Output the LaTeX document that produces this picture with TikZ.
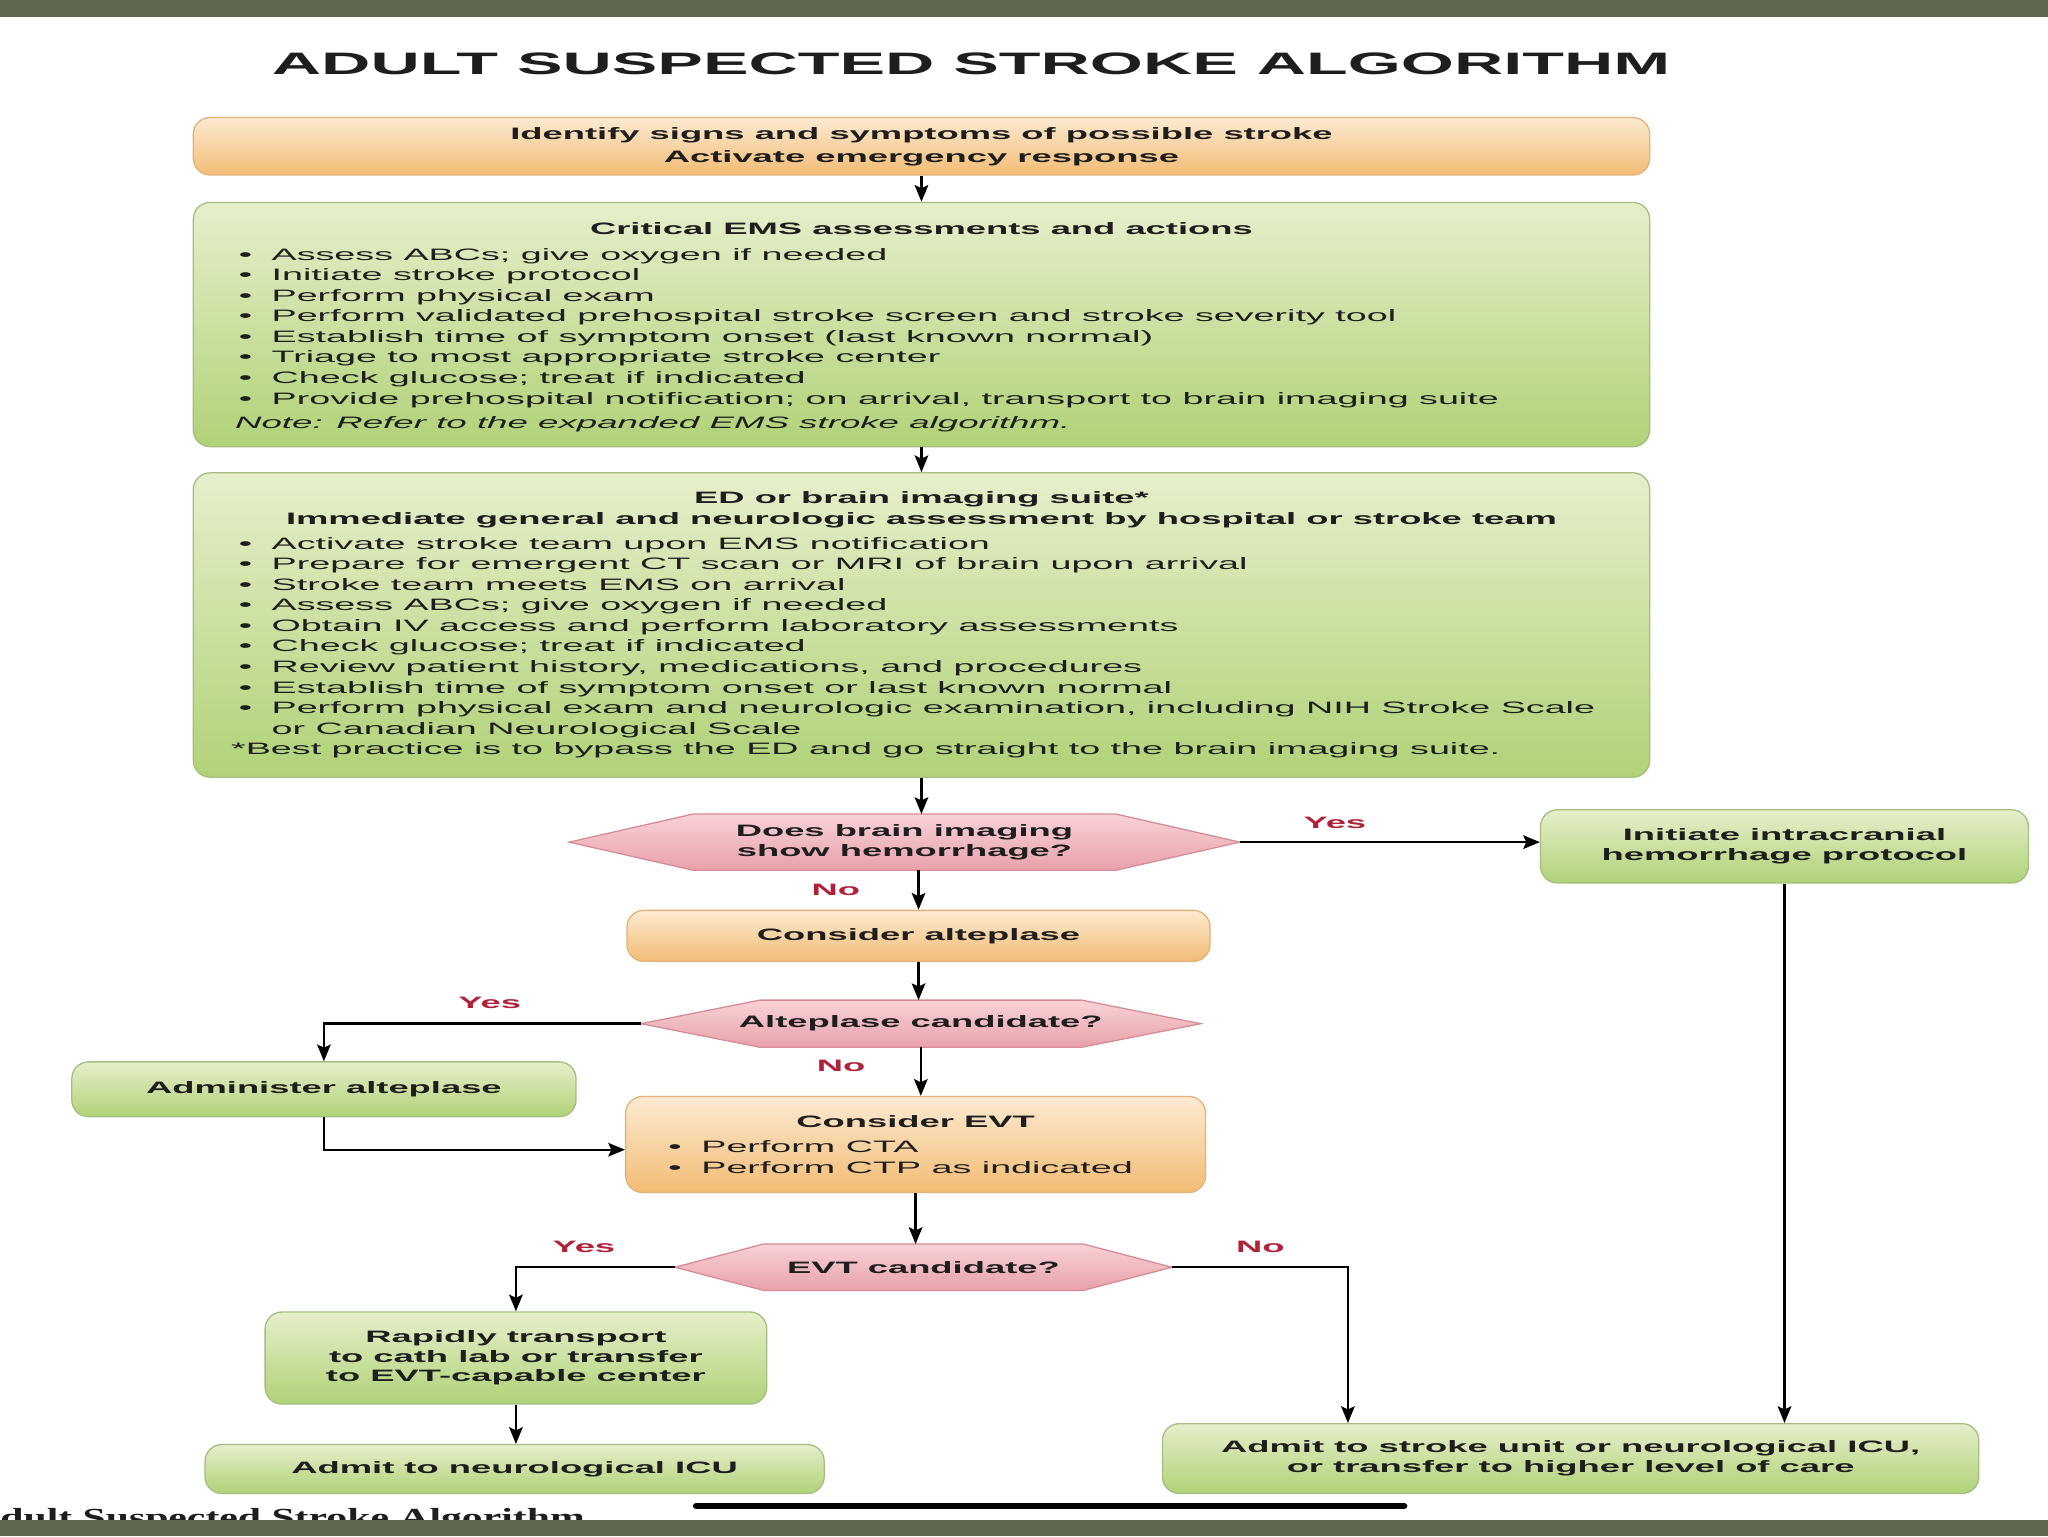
\documentclass[tikz,border=0pt]{standalone}
\usepackage{fontspec}
\setmainfont{Liberation Sans}[UprightFeatures={FakeStretch=2.28}, BoldFeatures={FakeStretch=2.2}, ItalicFeatures={FakeStretch=2.22}, BoldItalicFeatures={FakeStretch=2.2}]
\newfontfamily\capfont{Liberation Serif}[FakeStretch=1.6]
\usetikzlibrary{arrows.meta,backgrounds}
\definecolor{txt}{HTML}{1E1E1E}
\definecolor{oTop}{HTML}{FCEAD2}
\definecolor{oBot}{HTML}{F2BC74}
\definecolor{oLine}{HTML}{E2B27C}
\definecolor{gTop}{HTML}{E6EFCB}
\definecolor{gBot}{HTML}{B0D277}
\definecolor{gLine}{HTML}{A3BE80}
\definecolor{pTop}{HTML}{F8D2D6}
\definecolor{pBot}{HTML}{E8A1AB}
\definecolor{pLine}{HTML}{D68C97}
\definecolor{lblred}{HTML}{B0223A}
\definecolor{strip}{HTML}{5E6850}
\newcommand\bul[1]{\noindent\makebox[6.25mm][l]{\bfseries\textbullet}\mbox{#1}\par}
\newcommand\hexdraw[2]{\path[hexfill] (#1.west) -- ([xshift=#2]#1.north west) -- ([xshift=-#2]#1.north east) -- (#1.east) -- ([xshift=-#2]#1.south east) -- ([xshift=#2]#1.south west) -- cycle;}
\begin{document}
\begin{tikzpicture}[x=0.25mm,y=-0.25mm,
  every node/.style={inner sep=0pt, text=txt},
  base/.style={line width=0.7pt, rounded corners=3.2mm, align=center, font=\bfseries\fontsize{9}{10.7}\selectfont},
  obox/.style={base, draw=oLine, top color=oTop, bottom color=oBot},
  gbox/.style={base, draw=gLine, top color=gTop, bottom color=gBot},
  hexnode/.style={align=center, font=\bfseries\fontsize{9}{10.7}\selectfont},
  hexfill/.style={draw=pLine, line width=0.7pt, top color=pTop, bottom color=pBot},
  arr/.style={draw=black, line width=1.3pt, -{Stealth[length=3.2mm,width=2.6mm,inset=0.6mm]}},
  lbl/.style={text=lblred, font=\bfseries\fontsize{9}{10}\selectfont}
]
\useasboundingbox (0,0) rectangle (1568,1176);
\begin{scope}[on background layer]
\fill[white] (0,0) rectangle (1568,1176);
\end{scope}

% title
\node (title) at (743.5,49) {\fontsize{16.9}{18}\selectfont\bfseries ADULT SUSPECTED STROKE ALGORITHM};

% box 1
\node[obox, minimum width=278.75mm, minimum height=11mm, font=\bfseries\fontsize{9}{12.5}\selectfont] (b1) at (705.5,112)
  {Identify signs and symptoms of possible stroke\\Activate emergency response};

% box 2
\node[gbox, minimum width=278.75mm, minimum height=46.75mm] (b2) at (705.5,248.5) {\parbox{261.25mm}{\mdseries\fontsize{9}{11.2}\selectfont
\vspace*{1mm}
\centerline{\bfseries Critical EMS assessments and actions}\vspace{3pt}
\bul{Assess ABCs; give oxygen if needed}
\bul{Initiate stroke protocol}
\bul{Perform physical exam}
\bul{Perform validated prehospital stroke screen and stroke severity tool}
\bul{Establish time of symptom onset (last known normal)}
\bul{Triage to most appropriate stroke center}
\bul{Check glucose; treat if indicated}
\bul{Provide prehospital notification; on arrival, transport to brain imaging suite}
\vspace{2.3pt}\noindent\hspace*{-0.75mm}\itshape Note: Refer to the expanded EMS stroke algorithm.\par}};

% box 3
\node[gbox, minimum width=278.75mm, minimum height=58.25mm] (b3) at (705.5,478.5) {\parbox{261.25mm}{\mdseries\fontsize{9}{11.2}\selectfont
\centerline{\bfseries ED or brain imaging suite*}
\centerline{\bfseries Immediate general and neurologic assessment by hospital or stroke team}\vspace{2.3pt}
\bul{Activate stroke team upon EMS notification}
\bul{Prepare for emergent CT scan or MRI of brain upon arrival}
\bul{Stroke team meets EMS on arrival}
\bul{Assess ABCs; give oxygen if needed}
\bul{Obtain IV access and perform laboratory assessments}
\bul{Check glucose; treat if indicated}
\bul{Review patient history, medications, and procedures}
\bul{Establish time of symptom onset or last known normal}
\bul{Perform physical exam and neurologic examination, including NIH Stroke Scale}
\noindent\hspace*{6.25mm}\mbox{or Canadian Neurological Scale}\par
\noindent\hspace*{-1.5mm}\mbox{*Best practice is to bypass the ED and go straight to the brain imaging suite.}\par}};

% decisions (text nodes; hexagons drawn behind)
\node[hexnode, minimum width=128.25mm, minimum height=10.625mm] (d1) at (692.5,644.75) {Does brain imaging\\show hemorrhage?};
\node[hexnode, minimum width=107mm, minimum height=8.875mm] (d2) at (705,783.75) {Alteplase candidate?};
\node[hexnode, minimum width=95mm, minimum height=8.75mm] (d3) at (707,970.2) {EVT candidate?};

% other boxes
\node[gbox, minimum width=93.375mm, minimum height=14mm] (ich) at (1366.25,648) {Initiate intracranial\\hemorrhage protocol};
\node[obox, minimum width=111.6mm, minimum height=9.75mm] (ca) at (703.25,716.5) {Consider alteplase};
\node[gbox, minimum width=96.5mm, minimum height=10.5mm] (aa) at (248,834) {Administer alteplase};
\node[obox, minimum width=111mm, minimum height=18.375mm] (ce) at (701,876.25) {\parbox{94.5mm}{\mdseries\fontsize{9}{11.4}\selectfont
\centerline{\bfseries Consider EVT}\vspace{2.1pt}
\bul{Perform CTA}
\bul{Perform CTP as indicated}}};
\node[gbox, minimum width=96mm, minimum height=17.625mm] (rt) at (395,1039.75) {Rapidly transport\\to cath lab or transfer\\to EVT-capable center};
\node[gbox, minimum width=118.5mm, minimum height=9.35mm] (an) at (394,1124.7) {Admit to neurological ICU};
\node[gbox, minimum width=156.25mm, minimum height=13.35mm] (as) at (1202.5,1116.7) {Admit to stroke unit or neurological ICU,\\or transfer to higher level of care};

\begin{scope}[on background layer]
\hexdraw{d1}{23.75mm}
\hexdraw{d2}{22.75mm}
\hexdraw{d3}{17mm}
\end{scope}

\coordinate (asIn) at ([xshift=-42.625mm]as.north);
\coordinate (ceIn) at ([yshift=-1mm]ce.west);

% connectors
\draw[arr] (b1.south) -- (b2.north);
\draw[arr] (b2.south) -- (b3.north);
\draw[arr] (b3.south) -- (b3.south |- d1.north);
\draw[arr] (d1.east) -- (d1.east -| ich.west);
\draw[arr] (ca.north |- d1.south) -- (ca.north);
\draw[arr] (ca.south) -- (ca.south |- d2.north);
\draw[arr] (d2.west) -| (aa.north);
\draw[arr] (d2.south) -- (d2.south |- ce.north);
\draw[arr] (aa.south) |- (ceIn);
\draw[arr] (ce.south) -- (ce.south |- d3.north);
\draw[arr] (d3.west) -| (rt.north);
\draw[arr] (d3.east) -| (asIn);
\draw[arr] (rt.south) -- (rt.south |- an.north);
\draw[arr] (ich.south) -- (ich.south |- as.north);

% labels
\node[lbl] (y1) at (1022,630) {Yes};
\node[lbl] (n1) at (640,681) {No};
\node[lbl] (y2) at (375,768) {Yes};
\node[lbl] (n2) at (644,816) {No};
\node[lbl] (y3) at (447,955) {Yes};
\node[lbl] (n3) at (965,955) {No};

% bottom caption, bar and strips
\node[anchor=base west] (cap) at (0,1168.5) {\capfont\bfseries\fontsize{14.2}{15}\selectfont dult Suspected Stroke Algorithm};
\draw[line width=1.25mm, line cap=round] (533,1153) -- (1075,1153);
\fill[strip] (0,0) rectangle (1568,12.8);
\fill[strip] (0,1164) rectangle (1568,1176);
\end{tikzpicture}
\end{document}
